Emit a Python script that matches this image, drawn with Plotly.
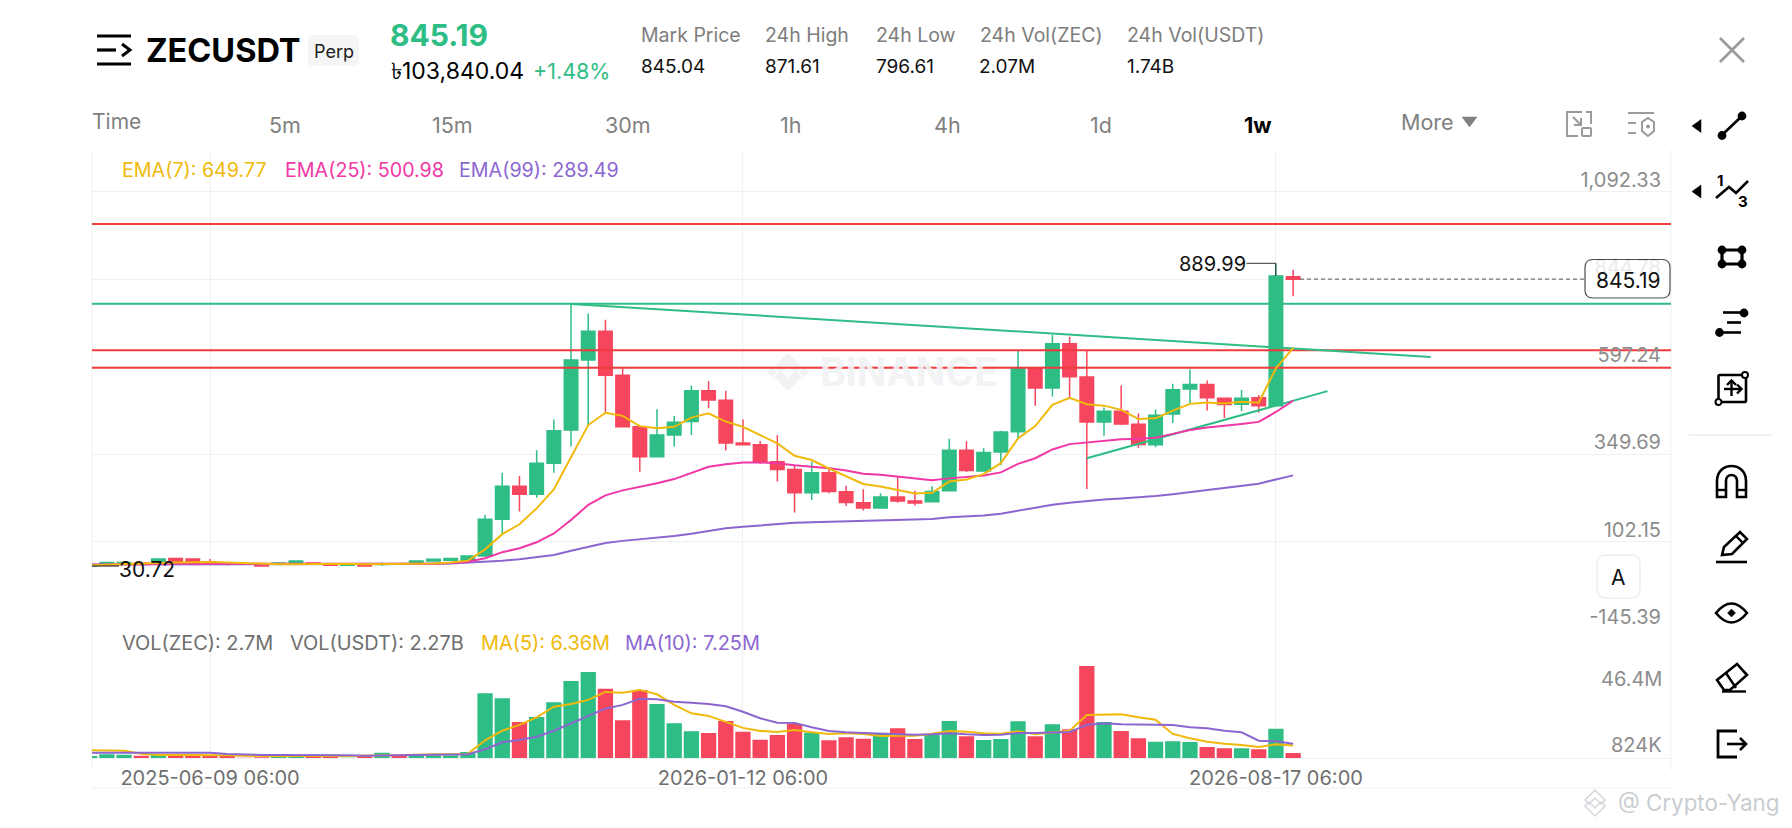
import pandas as pd
import plotly.graph_objects as go

W, H = 1792, 828
FONT = "Inter, Roboto, Noto Sans, sans-serif"
GREEN, RED = "#2EBD85", "#F6465D"
YEL, PINK, PUR = "#F0B90B", "#F037A5", "#8C66D0"

dates = pd.date_range("2025-04-21 06:00", periods=71, freq="7D")
opens = [33,37,40,41,38,54,53,45,42,39,38,38,38,41,39,35,39,37,39,39,47,49,49,61,165,259,236,324,418,616,698,573,427,342,404,442,529,502,381,376,328,306,240,297,243,212,197,228,217,215,246,361,302,356,413,592,537,662,568,441,471,434,376,463,534,547,508,491,509,487,852]
highs = [38,45,46,45,54,56,54,53,44,41,39,44,48,43,40,40,40,43,40,48,54,55,62,177,297,288,361,448,775,748,730,593,428,477,458,544,556,529,448,387,404,319,328,309,260,250,239,288,246,259,393,386,366,416,643,594,687,682,643,482,544,465,476,549,589,558,508,531,517,889.99,871.61]
lows = [31,35,38,36,37,42,41,39,34,36,32,36,37,37,34,34,32,33,37,38,46,47,47,59,123,187,226,297,371,432,467,425,300,341,371,404,480,360,376,322,272,184,220,239,203,190,197,212,204,215,246,299,302,318,394,487,513,508,251,402,432,368,369,438,493,473,452,471,467,487,796.61]
closes = [37,43,43,37,53,45,45,42,38,38,33,41,47,39,35,39,33,38,38,47,52,54,61,165,259,236,324,416,616,698,573,427,342,404,440,529,503,381,376,328,306,240,297,244,213,197,228,217,211,244,361,303,354,412,592,537,662,569,441,471,435,377,460,532,547,509,490,508,487,854,845.19]
ema7 = [35,36,37,38,41,43,44,44,43,41,40,38,38,39,40,39,38,38,38,38,40,43,48,80,123,151,196,250,342,432,467,458,429,423,427,453,465,442,427,404,380,345,333,309,286,265,258,248,238,240,272,278,293,324,394,429,489,509,491,487,475,449,451,473,492,496,493,498,495,593,649.77]
ema25 = [36,37,37,37,38,39,39,40,40,39,39,39,39,39,39,39,38,38,38,38,39,41,45,55,72,83,100,125,163,206,233,247,256,267,279,297,314,321,326,326,324,318,315,310,303,294,291,286,280,276,281,284,289,298,322,338,363,378,383,387,392,393,396,407,418,425,429,435,441,469,500.98]
ema99 = [37,37,37,37,38,38,38,38,38,38,38,38,38,38,38,38,38,38,38,38,39,40,42,44,48,52,57,64,76,88,98,104,108,113,118,124,133,140,144,148,152,155,157,158,160,161,162,163,165,166,171,173,176,181,190,197,206,212,217,221,224,227,231,236,242,248,253,259,266,278,289.49]
volumes = [1.2,2.0,1.8,1.3,2.0,2.2,1.8,1.5,1.3,0.3,0.5,0.8,1.0,1.0,1.0,0.3,1.5,2.8,1.8,1.8,1.5,1.5,3.2,32.5,30,18.2,20.7,28,38.7,43.2,34.8,19,34.2,27.2,17.5,13.5,12.7,18.7,13.3,9.3,11.7,17.2,12.8,9,10.5,9.8,12.2,15,9.7,11.8,18.7,11,9.2,9.7,18.5,11,17,14.5,46.2,18.2,13.7,10,8.3,8.5,8.2,5.7,5,5,4.5,14.8,2.7]
ma5 = [4,4,3.8,2.3,1.7,1.7,1.7,1.7,1.5,1.3,1,1,1.2,1.3,1.1,1.1,1.2,1.5,1.7,1.8,2,2,2.2,9,13.8,16.7,20.5,25.8,27.2,29.2,33.2,32.8,34.2,32,26.7,22.5,21.2,18.2,15.2,13.7,13.2,14.2,13,12.2,12.5,12.2,11.2,11.3,11.3,12.3,13.7,13.3,12.5,12.3,13.5,12,13,13.8,21.7,21.7,22,20.5,19.3,12.2,10,8.3,7.3,6.7,5.7,7,6.36]
ma10 = [2.8,2.8,2.8,2.8,2.9,3,3,2.8,2.2,1.8,1.7,1.7,1.7,1.7,1.7,1.5,1.3,1.3,1.5,1.7,1.7,1.7,2,4.5,8,9.2,10.8,13.8,17.5,21.2,24.8,26.7,29.8,29.5,28.3,27.8,27.2,26,23.3,20,17.8,17.7,15.5,13.7,13,12.7,12.5,12.2,11.8,12,12.5,12,11.7,11.8,12.7,12.7,13,13.2,16.7,17.5,17,16.8,16.7,16.7,15.5,15,13.8,13,8.8,8.5,7.25]
res_red = [1001.4, 643.7, 594.4]
res_green = [775.7]
trend1_x = ["2025-11-03 06:00", "2026-10-19 06:00"]
trend1_y = [775, 625]
trend2_x = ["2026-06-01 06:00", "2026-09-07 06:00"]
trend2_y = [338, 528]
price_ticks = [1092.33, 844.78, 597.24, 349.69, 102.15, -145.39]
price_tick_text = ["1,092.33", "844.78", "597.24", "349.69", "102.15", "-145.39"]
date_ticks = ["2025-06-09 06:00", "2026-01-12 06:00", "2026-08-17 06:00"]

t0 = pd.Timestamp("2025-06-09 06:00")
xrange = [t0 + pd.Timedelta(weeks=-6.864), t0 + pd.Timedelta(weeks=84.98)]
bar_colors = [GREEN if c >= o else RED for o, c in zip(opens, closes)]

def X(p): return p / W
def Y(p): return 1 - p / H

fig = go.Figure()
fig.add_trace(go.Candlestick(x=dates, open=opens, high=highs, low=lows, close=closes,
    increasing=dict(line=dict(color=GREEN, width=1.5), fillcolor=GREEN),
    decreasing=dict(line=dict(color=RED, width=1.5), fillcolor=RED),
    whiskerwidth=0, showlegend=False, hoverinfo="skip", xaxis="x", yaxis="y"))
for v in res_red:
    fig.add_trace(go.Scatter(x=xrange, y=[v, v], mode="lines", line=dict(color="#F23B3F", width=2), hoverinfo="skip", showlegend=False))
for v in res_green:
    fig.add_trace(go.Scatter(x=xrange, y=[v, v], mode="lines", line=dict(color=GREEN, width=2), hoverinfo="skip", showlegend=False))
fig.add_trace(go.Scatter(x=trend1_x, y=trend1_y, mode="lines", line=dict(color=GREEN, width=2), hoverinfo="skip", showlegend=False))
fig.add_trace(go.Scatter(x=trend2_x, y=trend2_y, mode="lines", line=dict(color=GREEN, width=2), hoverinfo="skip", showlegend=False))
for s, c in ((ema99, PUR), (ema25, PINK), (ema7, YEL)):
    fig.add_trace(go.Scatter(x=dates, y=s, mode="lines", line=dict(color=c, width=2), hoverinfo="skip", showlegend=False))
fig.add_trace(go.Bar(x=dates, y=volumes, marker=dict(color=bar_colors, line=dict(width=0)), xaxis="x2", yaxis="y2", hoverinfo="skip", showlegend=False))
fig.add_trace(go.Scatter(x=dates, y=ma5, mode="lines", line=dict(color=YEL, width=2), xaxis="x2", yaxis="y2", hoverinfo="skip", showlegend=False))
fig.add_trace(go.Scatter(x=dates, y=ma10, mode="lines", line=dict(color=PUR, width=2), xaxis="x2", yaxis="y2", hoverinfo="skip", showlegend=False))

shapes, ann = [], []

def text(x, y, s, size, color="#000000", anchor="left", weight=None, vanchor="middle"):
    t = f"<b>{s}</b>" if weight else s
    ann.append(dict(x=X(x), y=Y(y), xref="paper", yref="paper", text=t, showarrow=False,
                    xanchor=anchor, yanchor=vanchor, align=anchor,
                    font=dict(family=FONT, size=size, color=color), xshift=0, yshift=0,
                    borderpad=0, borderwidth=0))

def path(pts, color="#000000", w=3, close=False, fill=None, layer="above"):
    d = "M" + " L".join(f"{X(a):.5f},{Y(b):.5f}" for a, b in pts) + (" Z" if close else "")
    s = dict(type="path", xref="paper", yref="paper", path=d, layer=layer,
             line=dict(color=color, width=w))
    if fill:
        s["fillcolor"] = fill
    if not w:
        s["line"] = dict(width=0)
    shapes.append(s)

def rawpath(d, color="#000000", w=3, fill=None, layer="above"):
    s = dict(type="path", xref="paper", yref="paper", path=d, layer=layer, line=dict(color=color, width=w))
    if fill:
        s["fillcolor"] = fill
    shapes.append(s)

def rrect(x0, y0, x1, y1, r, line=None, w=1, fill=None, opacity=None):
    c = lambda a, b: f"{X(a):.5f},{Y(b):.5f}"
    d = (f"M{c(x0+r,y0)} L{c(x1-r,y0)} Q{c(x1,y0)} {c(x1,y0+r)} L{c(x1,y1-r)} Q{c(x1,y1)} {c(x1-r,y1)} "
         f"L{c(x0+r,y1)} Q{c(x0,y1)} {c(x0,y1-r)} L{c(x0,y0+r)} Q{c(x0,y0)} {c(x0+r,y0)} Z")
    s = dict(type="path", xref="paper", yref="paper", path=d, layer="above",
             line=dict(color=line or "rgba(0,0,0,0)", width=w if line else 0))
    if fill:
        s["fillcolor"] = fill
    if opacity is not None:
        s["opacity"] = opacity
    shapes.append(s)

def dot(cx, cy, r, color="#000000", fill=None, w=0):
    shapes.append(dict(type="circle", xref="paper", yref="paper", x0=X(cx-r), x1=X(cx+r), y0=Y(cy+r), y1=Y(cy-r),
                       fillcolor=fill or color, line=dict(color=color, width=w), layer="above"))

# Header
path([(97, 36), (131, 36)], w=3.2)
path([(97, 50), (116, 50)], w=3.2)
path([(97, 64), (131, 64)], w=3.2)
path([(122, 44), (130, 50), (122, 56)], w=3)
text(145.5, 50, "ZECUSDT", 32.5, weight=True)
rrect(308, 35, 359, 66, 5, fill="#F5F5F5")
text(333.5, 51, "Perp", 18, "#202020", anchor="center")
text(390, 35, "845.19", 30, GREEN, weight=True)
text(391, 71, "\u09f3103,840.04", 23)
text(533, 71, "+1.48%", 21.5, GREEN)
heads = [(641, "Mark Price", "845.04"), (765, "24h High", "871.61"), (875.5, "24h Low", "796.61"),
         (979.5, "24h Vol(ZEC)", "2.07M"), (1127, "24h Vol(USDT)", "1.74B")]
for x, a, b in heads:
    text(x, 35, a, 19.5, "#7D7D7D")
    text(x, 66, b, 19, "#111111")
path([(1720, 38), (1744, 62)], "#9A9A9A", 2.6)
path([(1744, 38), (1720, 62)], "#9A9A9A", 2.6)

# Tabs
text(92, 122, "Time", 21, "#808080")
for x, s in [(269, "5m"), (432, "15m"), (604.5, "30m"), (780, "1h"), (933.5, "4h"), (1090, "1d")]:
    text(x, 125, s, 21.5, "#808080")
text(1243.5, 125, "1w", 21.5, "#000000", weight=True)
text(1401, 122.5, "More", 21.5, "#808080")
path([(1462, 117), (1477, 117), (1469.5, 127)], "#808080", 0.5, close=True, fill="#808080")

# Top-right small icons
g = "#9B9B9B"
path([(1582, 112), (1567, 112), (1567, 136), (1578, 136)], g, 2)
path([(1591, 124), (1591, 112), (1586, 112)], g, 2)
rrect(1582, 128, 1591, 136, 1, line=g, w=2)
path([(1573, 117), (1581, 125)], g, 2)
path([(1581, 118), (1581, 125), (1574, 125)], g, 2)
path([(1628, 113), (1654, 113)], g, 2)
path([(1628, 123), (1636, 123)], g, 2)
path([(1628, 133), (1636, 133)], g, 2)
path([(1648, 118), (1654, 122), (1654, 131), (1648, 136), (1642, 131), (1642, 122)], g, 2, close=True)
dot(1648, 126.5, 2, g)

# Tool strip
for yc in (126, 191.5):
    path([(1701, yc - 6.5), (1701, yc + 6.5), (1692, yc)], "#000000", 0.5, close=True, fill="#000000")
path([(1722, 135), (1742, 116)], w=2.6)
dot(1722, 135.5, 4.4)
dot(1742, 116, 4.4)
path([(1716, 198), (1729, 187), (1736, 193), (1748, 181)], w=2.6)
text(1720, 181, "1", 15, weight=True, anchor="center")
text(1743, 202, "3", 15, weight=True, anchor="center")
path([(1722, 250), (1742, 250), (1742, 264), (1722, 264)], w=3.2, close=True)
for a, b in [(1722, 250), (1742, 250), (1722, 264), (1742, 264)]:
    dot(a, b, 4.4)
path([(1723, 312.5), (1743, 312.5)], w=2.6)
path([(1727, 322.5), (1741, 322.5)], w=2.6)
path([(1721, 332.5), (1741, 332.5)], w=2.6)
dot(1744, 313, 4.4)
dot(1719.5, 332.5, 4.4)
rrect(1718.5, 375, 1746, 402, 1.5, line="#000000", w=2.6)
dot(1745, 375, 3, "#000000", fill="#FFFFFF", w=2)
dot(1718.5, 402, 3, "#000000", fill="#FFFFFF", w=2)
path([(1731.5, 381), (1731.5, 396)], w=2.4)
path([(1724, 389), (1741, 389)], w=2.4)
path([(1727, 385), (1731.5, 380.5), (1736, 385)], w=2.4)
path([(1737, 384.5), (1741.5, 389), (1737, 393.5)], w=2.4)
path([(1689, 435), (1773, 435)], "#EEEEEE", 1.5)
c = lambda a, b: f"{X(a):.5f},{Y(b):.5f}"
rawpath(f"M{c(1717,497)} L{c(1717,481)} C{c(1717,461)} {c(1746,461)} {c(1746,481)} L{c(1746,497)} L{c(1737,497)} L{c(1737,481)} C{c(1737,473)} {c(1726,473)} {c(1726,481)} L{c(1726,497)} Z", w=2.6)
path([(1717, 490), (1726, 490)], w=2.4)
path([(1737, 490), (1746, 490)], w=2.4)
path([(1722, 555), (1724, 547), (1740, 532), (1747, 539), (1732, 554)], w=2.6, close=True)
path([(1736, 536), (1743, 543)], w=2.4)
path([(1716, 562), (1747, 562)], w=2.6)
rawpath(f"M{c(1716,613)} Q{c(1731.5,594)} {c(1747,613)} Q{c(1731.5,632)} {c(1716,613)} Z", w=2.6)
path([(1731.5, 609), (1735.5, 613), (1731.5, 617), (1727.5, 613)], close=True, w=0.5, fill="#000000")
path([(1717, 680), (1737, 664), (1747, 675), (1730, 690), (1724, 690)], w=2.6, close=True)
path([(1726, 673), (1736, 688)], w=2.4)
path([(1722, 691.5), (1746, 691.5)], w=2.4)
path([(1737, 731), (1718, 731), (1718, 757), (1737, 757)], w=2.8)
path([(1727, 744), (1746, 744)], w=2.6)
path([(1740, 738), (1746, 744), (1740, 750)], w=2.6)

# Chart frame
fr = "#EFF0F2"
path([(92, 150), (92, 770)], fr, 1, layer="below")
path([(1671, 150), (1671, 770)], fr, 1, layer="below")
path([(92, 788), (1671, 788)], fr, 1.2, layer="below")

# Watermark
wm = "#F1F2F3"
path([(788, 353), (802, 367), (795, 373), (788, 366), (781, 373), (774, 367)], close=True, w=0, fill=wm, layer="below")
path([(788, 391), (774, 377), (781, 371), (788, 378), (795, 371), (802, 377)], close=True, w=0, fill=wm, layer="below")
path([(767, 372), (772, 367), (777, 372), (772, 377)], close=True, w=0, fill=wm, layer="below")
path([(799, 372), (804, 367), (809, 372), (804, 377)], close=True, w=0, fill=wm, layer="below")
ann.append(dict(x=X(818), y=Y(371), xref="paper", yref="paper", text="<b>BINANCE</b>", showarrow=False, xanchor="left", yanchor="middle",
                font=dict(family=FONT, size=39, color=wm), opacity=0.9))

# Legends
for x, s, col in [(122, "EMA(7): 649.77", YEL), (284.5, "EMA(25): 500.98", PINK), (458.5, "EMA(99): 289.49", PUR)]:
    text(x, 170, s, 19.7, col)
for x, s, col in [(122, "VOL(ZEC): 2.7M", "#6F6F6F"), (289.5, "VOL(USDT): 2.27B", "#6F6F6F"), (480.5, "MA(5): 6.36M", YEL), (624.5, "MA(10): 7.25M", PUR)]:
    text(x, 643, s, 19.9, col)

# Price markers
path([(1246.5, 263.3), (1275.7, 263.3), (1275.7, 276)], "#333333", 1)
text(1246, 263.5, "889.99", 20, "#111111", anchor="right")
path([(92, 566), (119, 566)], "#333333", 1.2)
text(119, 569, "30.72", 21, "#111111")
shapes.append(dict(type="line", xref="paper", yref="y", x0=X(1300), x1=X(1585), y0=845.19, y1=845.19,
                   line=dict(color="#707070", width=1.2, dash="4px,3px"), layer="above"))
rrect(1585, 259.5, 1670, 298, 8, line="#2A2A2A", w=1.2, fill="#FFFFFF", opacity=0.82)
text(1661, 281, "845.19", 21, "#111111", anchor="right")
rrect(1597, 555, 1640, 598, 9, line="#EEEEEE", w=1.5, fill="#FFFFFF")
text(1618.5, 577, "A", 21, "#111111", anchor="center")
text(1661.5, 679, "46.4M", 20, "#8C8C8C", anchor="right")
text(1661.5, 745, "824K", 20, "#8C8C8C", anchor="right")

# Footer watermark
text(1618, 802, "@ Crypto-Yang", 22.4, "#C9CDD2")
path([(1595, 790), (1605, 800), (1601, 804), (1595, 798), (1589, 804), (1585, 800)], "#D3D6DA", 1.5, close=True)
path([(1595, 816), (1605, 806), (1601, 802), (1595, 808), (1589, 802), (1585, 806)], "#D3D6DA", 1.5, close=True)

grid = "#EFF0F2"
fig.update_layout(
    width=W, height=H, margin=dict(l=0, r=0, t=0, b=0),
    paper_bgcolor="#FFFFFF", plot_bgcolor="#FFFFFF",
    bargap=0.11, boxmode="overlay", boxgap=0.215, boxgroupgap=0, showlegend=False, dragmode=False,
    shapes=shapes, annotations=ann,
    font=dict(family=FONT),
    xaxis=dict(domain=[X(92), X(1671)], range=xrange, type="date", anchor="y",
               rangeslider=dict(visible=False), showticklabels=False,
               tickvals=date_ticks, ticks="", showgrid=True, gridcolor=grid, gridwidth=1,
               showline=False, zeroline=False),
    yaxis=dict(domain=[Y(629), Y(150)], range=[-145.6, 1211], anchor="x", side="right",
               tickvals=price_ticks, ticktext=price_tick_text, ticks="",
               ticklabelposition="inside", ticklabelshift=-12, ticklabelstandoff=7,
               tickfont=dict(family=FONT, size=20, color="#8C8C8C"),
               showgrid=True, gridcolor=grid, gridwidth=1, zeroline=False, showline=False),
    xaxis2=dict(domain=[X(92), X(1671)], matches="x", type="date", anchor="y2",
                tickvals=date_ticks, ticktext=date_ticks, ticks="", ticklabelstandoff=2,
                tickfont=dict(family=FONT, size=20, color="#6F6F6F"),
                showgrid=True, gridcolor=grid, gridwidth=1, showline=True, linecolor=grid, zeroline=False),
    yaxis2=dict(domain=[Y(758.3), Y(629)], range=[0, 64.65], anchor="x2", side="right",
                showticklabels=False, ticks="", showgrid=False, zeroline=False, showline=False),
)
fig.write_html("out.html", config=dict(displayModeBar=False, staticPlot=True),
               post_script="document.body.style.margin='0';document.body.style.overflow='hidden';")
